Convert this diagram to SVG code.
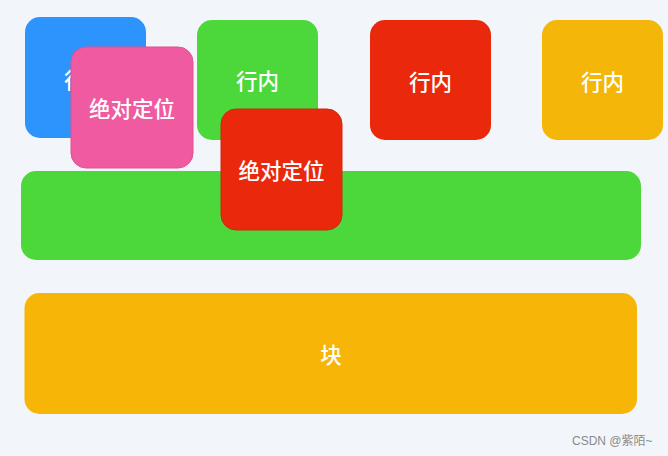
<svg xmlns="http://www.w3.org/2000/svg" width="668" height="456" viewBox="0 0 668 456">
<style>
.t{font-family:"Noto Sans CJK SC","Noto Sans",sans-serif;font-size:21.5px;font-weight:500;fill:#ffffff;text-anchor:middle;dominant-baseline:central}
.wm{font-family:"Liberation Sans","Noto Sans CJK SC",sans-serif;font-size:12px;fill:#8a8a8a}
</style>
<rect x="0" y="0" width="668" height="456" fill="#f2f6fb"/>
<g id="blue-inline"><rect x="25" y="17" width="121" height="121" rx="15" fill="#2d93fd"/><text class="t" x="85.5" y="78">行内</text></g>
<g id="green-inline"><rect x="197" y="20" width="121" height="120" rx="15" fill="#4cd73a"/><text class="t" x="257.5" y="79">行内</text></g>
<g id="red-inline"><rect x="370" y="20" width="121" height="120" rx="15" fill="#ea290c"/><text class="t" x="430.5" y="80">行内</text></g>
<g id="yellow-inline"><rect x="542" y="20" width="121" height="120" rx="15" fill="#f5b60a"/><text class="t" x="602.5" y="80">行内</text></g>
<g id="green-block"><rect x="21" y="171" width="620" height="89" rx="15" fill="#4cd73a"/></g>
<g id="pink-absolute"><rect x="71" y="47" width="122" height="121" rx="15" fill="#ef5aa0" stroke="#e4508f" stroke-width="1"/><text class="t" x="132" y="107">绝对定位</text></g>
<g id="red-absolute"><rect x="221" y="109" width="121" height="121" rx="15" fill="#ea290c" stroke="#c92a10" stroke-width="1"/><text class="t" x="281.5" y="169">绝对定位</text></g>
<g id="yellow-block"><rect x="24.5" y="293" width="612.5" height="121" rx="15" fill="#f7b507"/><text class="t" x="331" y="353">块</text></g>
<g id="connectors"></g>
<text class="wm" x="572" y="445">CSDN @紫陌~</text>
</svg>
